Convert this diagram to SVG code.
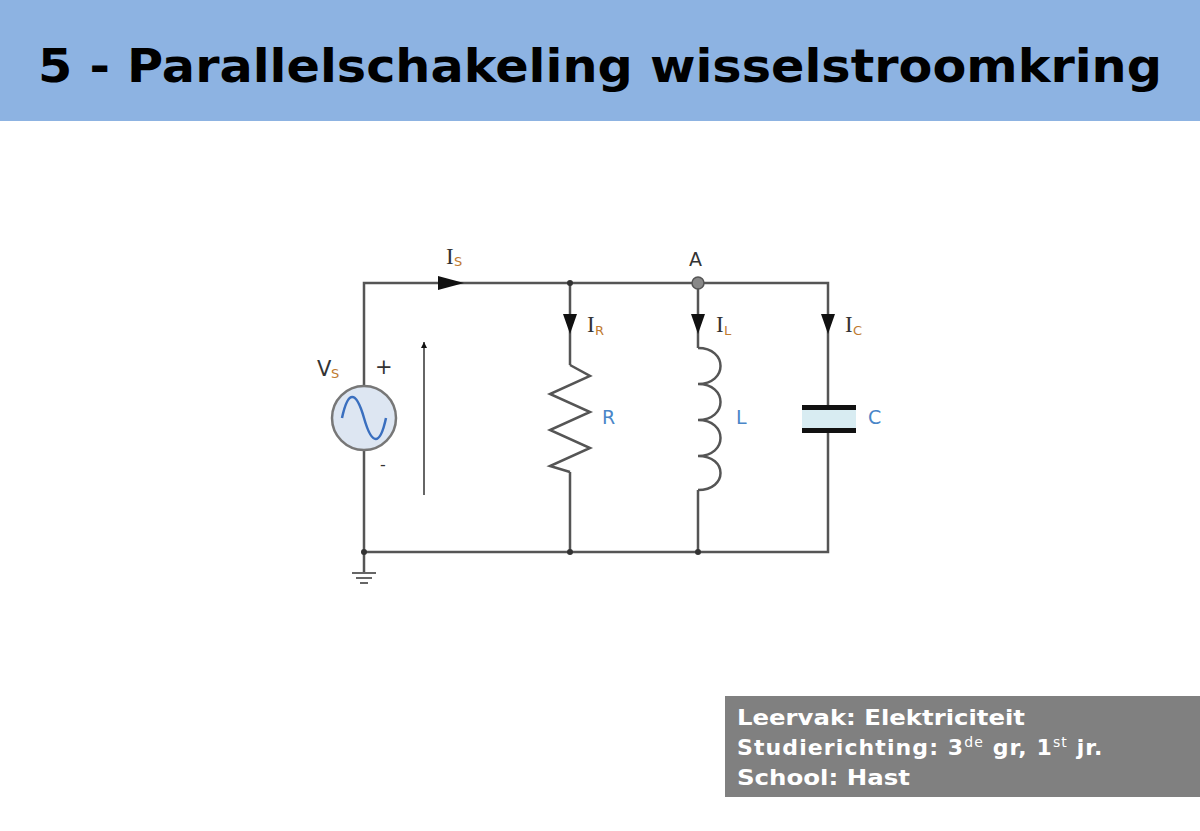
<svg xmlns="http://www.w3.org/2000/svg" width="1200" height="831" viewBox="0 0 1200 831">
<defs>
<style>
.w{stroke:#555;stroke-width:2.5;fill:none}
.lbl{font-family:"DejaVu Sans",sans-serif;font-size:19px;fill:#4a86c8}
.cur{font-family:"Liberation Serif",serif;font-size:23px;fill:#333}
.sub{font-family:"DejaVu Sans",sans-serif;font-size:13px;fill:#c07a30}
.info{font-family:"DejaVu Sans",sans-serif;font-weight:bold;font-size:22px;fill:#fff}
</style>
<marker id="ah" viewBox="0 0 10 10" refX="10" refY="5" markerWidth="4" markerHeight="4" orient="auto"><path d="M0,0L10,5L0,10z" fill="#111"/></marker>
</defs>
<rect width="1200" height="831" fill="#fff"/>
<g id="title"><rect x="0" y="0" width="1200" height="121" fill="#8db3e2"/>
<text x="38" y="82" font-family="DejaVu Sans,sans-serif" font-weight="bold" font-size="46" fill="#000" textLength="1124" lengthAdjust="spacingAndGlyphs">5 - Parallelschakeling wisselstroomkring</text></g>
<g id="connectors">
<path class="w" d="M364,386V283H828V552H364V450M570,283V365M570,472V552M698,283V348M698,490V552M828,283V407M828,430V552M364,552V572"/>
<path d="M438,276L464,283L438,290z" fill="#111"/>
<path d="M563,314L570,334L577,314z" fill="#111"/>
<path d="M691,314L698,334L705,314z" fill="#111"/>
<path d="M821,314L828,334L835,314z" fill="#111"/>
<line x1="424" y1="495" x2="424" y2="342" stroke="#333" stroke-width="1.5" marker-end="url(#ah)"/>
<circle cx="364" cy="552" r="3" fill="#333"/><circle cx="570" cy="552" r="3" fill="#333"/><circle cx="698" cy="552" r="3" fill="#333"/><circle cx="570" cy="283" r="3" fill="#333"/>
</g>
<g id="ground"><path d="M352,573H376M356,578H372M360,583H368" stroke="#666" stroke-width="2"/></g>
<g id="source"><circle cx="364" cy="418" r="32" fill="#dde6f2" stroke="#777" stroke-width="2.5"/>
<path d="M342,418C348,390 356,390 364,418S380,446 386,418" stroke="#3a6fbf" stroke-width="2.5" fill="none"/>
<text x="317" y="376" font-family="DejaVu Sans,sans-serif" font-size="21" fill="#333">V</text><text x="331" y="378" class="sub">S</text>
<text x="375" y="374" font-family="DejaVu Sans,sans-serif" font-size="21" fill="#333">+</text>
<text x="380" y="470" font-family="DejaVu Sans,sans-serif" font-size="16" fill="#333">-</text></g>
<g id="resistor"><path class="w" d="M570,365L590,376L550,394L590,412L550,430L590,448L550,466L570,472"/>
<text x="602" y="424" class="lbl">R</text>
<text x="587" y="332" class="cur">I</text><text x="595" y="335" class="sub">R</text></g>
<g id="inductor"><path class="w" d="M698,348C728,348 728,384 698,384C728,384 728,420 698,420C728,420 728,456 698,456C728,456 728,490 698,490"/>
<text x="736" y="424" class="lbl">L</text>
<text x="716" y="332" class="cur">I</text><text x="724" y="335" class="sub">L</text></g>
<g id="capacitor"><rect x="802" y="410" width="54" height="18" fill="#d8ecf2"/>
<rect x="802" y="405" width="54" height="5" fill="#111"/><rect x="802" y="428" width="54" height="5" fill="#111"/>
<text x="868" y="424" class="lbl">C</text>
<text x="845" y="332" class="cur">I</text><text x="853" y="335" class="sub">C</text></g>
<g id="nodeA"><circle cx="698" cy="283" r="6" fill="#888" stroke="#555" stroke-width="1.5"/>
<text x="689" y="266" font-family="DejaVu Sans,sans-serif" font-size="19" fill="#333">A</text></g>
<g id="Is"><text x="446" y="264" class="cur">I</text><text x="454" y="266" class="sub">S</text></g>
<g id="info"><rect x="725" y="696" width="475" height="101" fill="#808080"/>
<text x="737" y="725" class="info" textLength="288" lengthAdjust="spacingAndGlyphs">Leervak: Elektriciteit</text>
<text x="737" y="755" class="info" letter-spacing="1.1">Studierichting: 3<tspan font-size="14" font-weight="normal" dy="-8">de</tspan><tspan dy="8"> gr, 1</tspan><tspan font-size="14" font-weight="normal" dy="-8">st</tspan><tspan dy="8"> jr.</tspan></text>
<text x="737" y="785" class="info" textLength="173" lengthAdjust="spacingAndGlyphs">School: Hast</text></g>
</svg>
